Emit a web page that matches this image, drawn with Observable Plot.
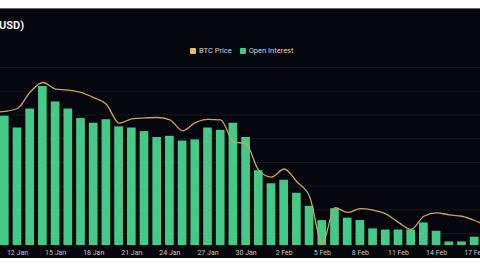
<!DOCTYPE html>
<html>
<head>
<meta charset="utf-8">
<script src="https://cdn.jsdelivr.net/npm/d3@7"></script>
<script src="https://cdn.jsdelivr.net/npm/@observablehq/plot@0.6"></script>
<style>
  html, body { margin: 0; padding: 0; }
  body { width: 480px; height: 270px; overflow: hidden; position: relative; background: #ffffff; font-family: Roboto, "Noto Sans", sans-serif; }
  #panel { position: absolute; left: 0; top: 8px; width: 480px; height: 250px; background: #06070e; border-top: 1px solid #6a6a6a; box-sizing: border-box; }
  #title { position: absolute; left: -1px; top: 19px; color: #f2f2f2; font-weight: 700; font-size: 11px; line-height: 13px; }
  #legend { position: absolute; left: 190px; top: 46px; display: flex; align-items: center; gap: 8px; font-size: 7.5px; color: #d2d4da; line-height: 9px; }
  #legend .item { display: flex; align-items: center; gap: 3px; }
  #legend .sw { width: 6px; height: 6px; border-radius: 1px; display: inline-block; }
  #chart { position: absolute; left: 0; top: 60px; }
</style>
</head>
<body>
<div id="panel"></div>
<div id="title">USD)</div>
<div id="legend"></div>
<div id="chart"></div>
<script>
// ---- data ----
const dates = [
  "2026-01-10","2026-01-11","2026-01-12","2026-01-13","2026-01-14","2026-01-15","2026-01-16","2026-01-17",
  "2026-01-18","2026-01-19","2026-01-20","2026-01-21","2026-01-22","2026-01-23","2026-01-24","2026-01-25",
  "2026-01-26","2026-01-27","2026-01-28","2026-01-29","2026-01-30","2026-01-31","2026-02-01","2026-02-02",
  "2026-02-03","2026-02-04","2026-02-05","2026-02-06","2026-02-07","2026-02-08","2026-02-09","2026-02-10",
  "2026-02-11","2026-02-12","2026-02-13","2026-02-14","2026-02-15","2026-02-16","2026-02-17","2026-02-18"
];
// Open interest, USD billions
const openInterest = [
  43.5, 43.9, 42.9, 44.5, 46.4, 45.1, 44.5, 43.7,
  43.3, 43.6, 43.0, 42.9, 42.6, 42.1, 42.2, 41.8,
  41.9, 42.9, 42.7, 43.3, 42.1, 39.3, 38.2, 38.5,
  37.4, 36.3, 35.1, 36.1, 35.3, 35.1, 34.4, 34.3,
  34.3, 34.3, 34.9, 34.2, 33.3, 33.3, 33.7, 33.9
];
// BTC price, USD thousands
const btcPrice = [
  90.7, 90.9, 91.5, 95.0, 97.0, 95.6, 95.4, 94.9,
  93.8, 92.4, 88.4, 89.3, 89.5, 89.6, 89.1, 86.8,
  88.5, 89.2, 89.1, 84.5, 84.0, 78.4, 77.0, 78.7,
  76.0, 72.9, 63.0, 70.5, 69.5, 70.3, 70.0, 69.2,
  67.4, 65.9, 68.7, 69.4, 69.0, 68.7, 67.8, 66.6
];
const xTickDates = [
  "2026-01-12","2026-01-15","2026-01-18","2026-01-21","2026-01-24","2026-01-27","2026-01-30",
  "2026-02-02","2026-02-05","2026-02-08","2026-02-11","2026-02-14","2026-02-17"
];
const gridValues = [34, 36, 38, 40, 42, 44, 46, 48];
const seriesNames = ["BTC Price", "Open Interest"];
const seriesColors = ["#e6c25e", "#45c986"];
const lineColor = "#c9a35f";

// ---- build ----
const parse = d3.utcParse("%Y-%m-%d");
const rows = dates.map((d, i) => ({date: parse(d), oi: openInterest[i], price: btcPrice[i]}));
const xTicks = xTickDates.map(parse);
// secondary (price) axis mapped onto the open-interest scale
const priceToOI = d3.scaleLinear().domain([60, 100]).range([32, 47.93]);

const legend = document.getElementById("legend");
seriesNames.forEach((n, i) => {
  const it = document.createElement("div");
  it.className = "item";
  it.innerHTML = `<span class="sw" style="background:${seriesColors[i]}"></span><span>${n}</span>`;
  legend.appendChild(it);
});

const chart = Plot.plot({
  width: 480,
  height: 198,
  marginTop: 7,
  marginBottom: 13,
  marginLeft: 0,
  marginRight: 0,
  style: {background: "#06070e", color: "#c4c7cd", fontSize: "7px", fontFamily: "Roboto, 'Noto Sans', sans-serif"},
  x: {type: "utc", domain: [new Date(Date.UTC(2026, 0, 10, 15, 52)), new Date(Date.UTC(2026, 1, 17, 11, 0))]},
  y: {domain: [33, 48], axis: null},
  marks: [
    Plot.gridY(gridValues, {stroke: "#161820", strokeOpacity: 1, strokeWidth: 1}),
    Plot.rectY(rows, {
      x1: d => d3.utcHour.offset(d.date, -12),
      x2: d => d3.utcHour.offset(d.date, 12),
      y: "oi",
      insetLeft: 2, insetRight: 2,
      fill: seriesColors[1],
      clip: true
    }),
    Plot.line(rows, {
      x: "date",
      y: d => priceToOI(d.price),
      stroke: lineColor,
      strokeWidth: 1.3,
      curve: "monotone-x",
      clip: true
    }),
    Plot.axisX({ticks: xTicks, tickFormat: d3.utcFormat("%-d %b"), tickSize: 0, tickPadding: 5, label: null})
  ]
});
document.getElementById("chart").appendChild(chart);
</script>
</body>
</html>
